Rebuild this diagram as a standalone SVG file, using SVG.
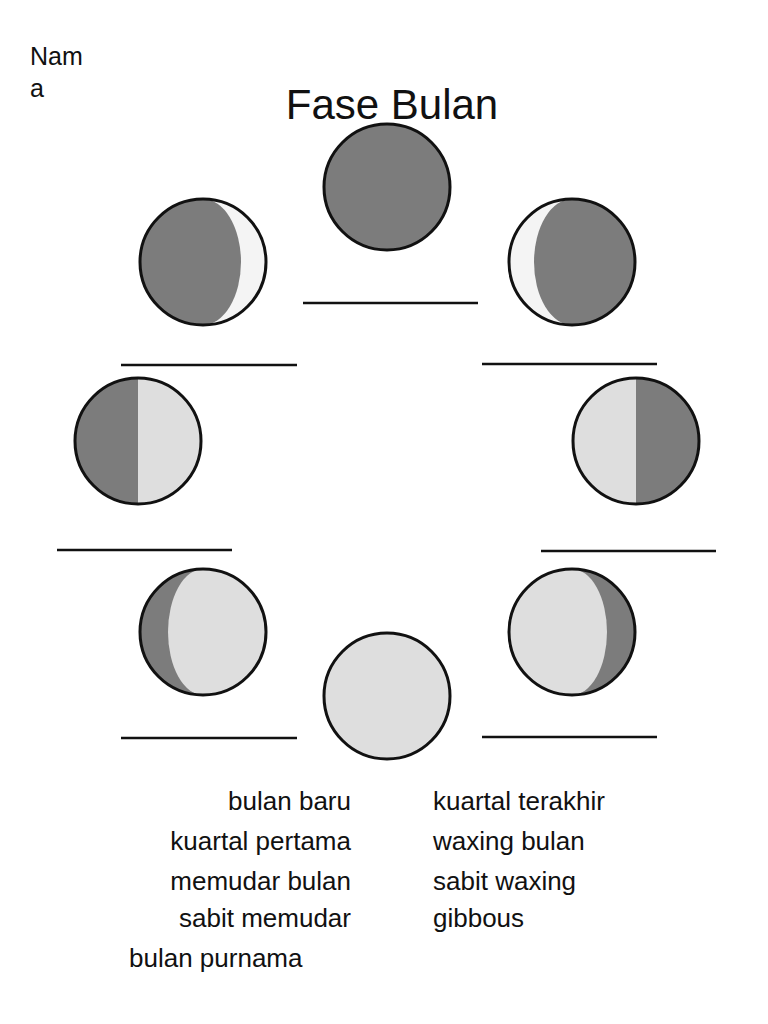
<svg xmlns="http://www.w3.org/2000/svg" width="768" height="1024" viewBox="0 0 768 1024">
<style>
.t{font-family:"Liberation Sans",Arial,sans-serif;fill:#111}
.w{font-size:26px}
.ln{stroke:#111;stroke-width:2.5}
.dk{fill:#7c7c7c}
.lt{fill:#dedede}
.rim{fill:none;stroke:#111;stroke-width:3}
</style>
<defs>
<path id="rh" d="M0,-63 A63,63 0 0 1 0,63 Z"/>
<path id="lh" d="M0,-63 A63,63 0 0 0 0,63 Z"/>
</defs>
<rect width="768" height="1024" fill="#fff"/>
<text class="t" x="30" y="65" font-size="25">Nam</text>
<text class="t" x="30" y="97" font-size="25">a</text>
<text class="t" x="392" y="119" font-size="42" text-anchor="middle">Fase Bulan</text>
<g id="new" transform="translate(387,187)"><circle r="63" class="dk"/><circle r="63" class="rim"/></g>
<g id="waxcres" transform="translate(203,262)"><circle r="63" fill="#f4f4f4"/><path class="dk" d="M0,-63 A63,63 0 0 0 0,63 A38,63 0 0 0 0,-63Z"/><circle r="63" class="rim"/></g>
<g id="waningcres" transform="translate(572,262)"><circle r="63" fill="#f4f4f4"/><path class="dk" d="M0,-63 A63,63 0 0 1 0,63 A38,63 0 0 1 0,-63Z"/><circle r="63" class="rim"/></g>
<g id="firstq" transform="translate(138,441)"><circle r="63" class="lt"/><use href="#lh" class="dk"/><circle r="63" class="rim"/></g>
<g id="lastq" transform="translate(636,441)"><circle r="63" class="lt"/><use href="#rh" class="dk"/><circle r="63" class="rim"/></g>
<g id="waxgib" transform="translate(203,632)"><circle r="63" class="dk"/><path class="lt" d="M0,-63 A63,63 0 0 1 0,63 A35,63 0 0 1 0,-63Z"/><circle r="63" class="rim"/></g>
<g id="wangib" transform="translate(572,632)"><circle r="63" class="dk"/><path class="lt" d="M0,-63 A63,63 0 0 0 0,63 A35,63 0 0 0 0,-63Z"/><circle r="63" class="rim"/></g>
<g id="full" transform="translate(387,696)"><circle r="63" class="lt"/><circle r="63" class="rim"/></g>
<g id="lines">
<line class="ln" x1="303" y1="303" x2="478" y2="303"/>
<line class="ln" x1="121" y1="365" x2="297" y2="365"/>
<line class="ln" x1="482" y1="364" x2="657" y2="364"/>
<line class="ln" x1="57" y1="550" x2="232" y2="550"/>
<line class="ln" x1="541" y1="551" x2="716" y2="551"/>
<line class="ln" x1="121" y1="738" x2="297" y2="738"/>
<line class="ln" x1="482" y1="737" x2="657" y2="737"/>
</g>
<g class="t w" text-anchor="end">
<text x="351" y="810">bulan baru</text>
<text x="351" y="850">kuartal pertama</text>
<text x="351" y="890">memudar bulan</text>
<text x="351" y="927">sabit memudar</text>
</g>
<text class="t w" x="129" y="967">bulan purnama</text>
<g class="t w">
<text x="433" y="810">kuartal terakhir</text>
<text x="433" y="850">waxing bulan</text>
<text x="433" y="890">sabit waxing</text>
<text x="433" y="927">gibbous</text>
</g>
</svg>
